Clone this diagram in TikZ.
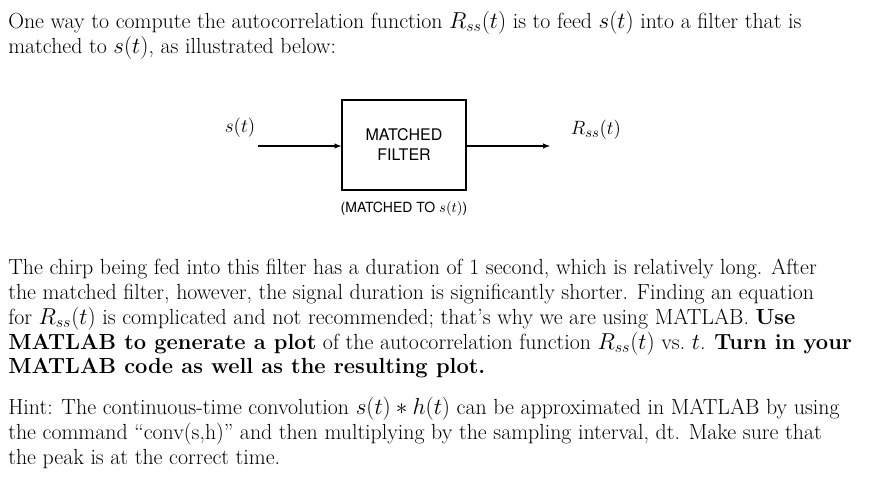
\documentclass[tikz,border=0pt]{standalone}
\usepackage{amsmath}
\usepackage{fontspec}
\newfontfamily\heros{TeX Gyre Heros}
\usetikzlibrary{positioning}
\tikzset{
  para/.style={anchor=north west,align=left,inner sep=0pt,font=\fontsize{16.4}{18.6}\selectfont},
  block/.style={draw,thick,minimum width=93pt,minimum height=67.5pt,align=center,font=\heros\fontsize{12}{15}\selectfont},
  sig/.style={font=\fontsize{15}{17}\selectfont}
}
\begin{document}
\begin{tikzpicture}[x=0.75pt,y=-0.75pt]
  \useasboundingbox (0,0) rectangle (870,477);

  % intro text
  \node[para] (intro) at (8,11)
    {One way to compute the autocorrelation function $R_{ss}(t)$ is to feed $s(t)$ into a filter that is\\
     matched to $s(t)$, as illustrated below:};

  % block diagram
  \node[block] (filt) at (404,145) {MATCHED\\FILTER};
  \coordinate (in) at (258,146);
  \coordinate (out) at (550,146);
  \draw[thick,-latex] (in) -- (in -| filt.west);
  \draw[thick,-latex] (filt.east |- out) -- (out);
  \node[sig] (s) at (240,128) {$s(t)$};
  \node[sig] (r) at (596,130) {$R_{ss}(t)$};
  \node[below=5pt of filt,font=\heros\fontsize{10.5}{12}\selectfont] (note) {(MATCHED TO $s(t)$)};

  % task text
  \node[para] (task) at (8,259)
    {The chirp being fed into this filter has a duration of 1 second, which is relatively long. After\\
     the matched filter, however, the signal duration is significantly shorter. Finding an equation\\
     for $R_{ss}(t)$ is complicated and not recommended; that's why we are using MATLAB. \textbf{Use}\\
     \textbf{MATLAB to generate a plot} of the autocorrelation function $R_{ss}(t)$ vs.\ $t$. \textbf{Turn in your}\\
     \textbf{MATLAB code as well as the resulting plot.}};

  % hint text
  \node[para] (hint) at (8,397)
    {Hint: The continuous-time convolution $s(t)*h(t)$ can be approximated in MATLAB by using\\
     the command ``conv(s,h)'' and then multiplying by the sampling interval, dt. Make sure that\\
     the peak is at the correct time.};
\end{tikzpicture}
\end{document}
